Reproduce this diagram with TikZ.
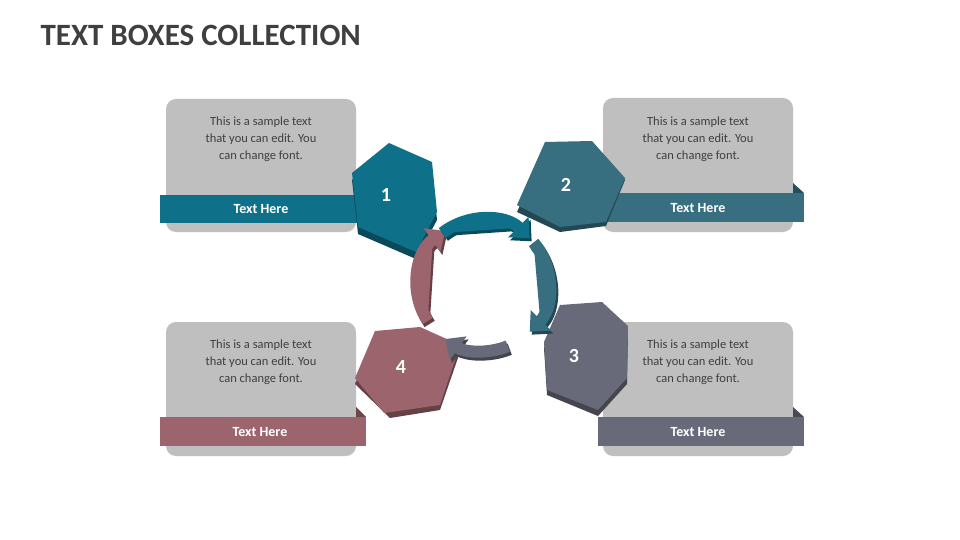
\documentclass[tikz,border=0pt]{standalone}
\usepackage{fontspec}
\setmainfont{Carlito}
\usetikzlibrary{arrows.meta}
\definecolor{cA}{HTML}{0E7189}
\definecolor{cB}{HTML}{376F80}
\definecolor{cC}{HTML}{686A7A}
\definecolor{cD}{HTML}{9C646C}
\definecolor{boxg}{HTML}{BFBFBF}
\definecolor{titlec}{HTML}{3F3F3F}
\tikzset{
  card/.style={fill=boxg,rounded corners=10pt},
  body/.style={text=titlec,align=center,font=\fontsize{12.5}{17}\selectfont},
  rib/.style={font=\bfseries\fontsize{14}{16}\selectfont,text=white},
  num/.style={font=\bfseries\fontsize{20}{22}\selectfont,text=white},
  arr/.style={line width=12pt,-{Triangle[width=28pt,length=16pt]}},
}
\begin{document}
\begin{tikzpicture}[x=1pt,y=-1pt]
\useasboundingbox (0,0) rectangle (960,540);
\node[anchor=west,text=titlec,font=\bfseries\fontsize{31}{33}\selectfont] (title) at (37,35) {TEXT BOXES COLLECTION};
% cards
\fill[card] (166,99) rectangle (356,232);
\fill[card] (603,98) rectangle (793,232);
\fill[card] (603,322) rectangle (793,456);
\fill[card] (166,322) rectangle (356,456);
\node[body] (t1) at (261,139) {This is a sample text\\that you can edit. You\\can change font.};
\node[body] (t2) at (698,139) {This is a sample text\\that you can edit. You\\can change font.};
\node[body] (t3) at (698,362) {This is a sample text\\that you can edit. You\\can change font.};
\node[body] (t4) at (261,362) {This is a sample text\\that you can edit. You\\can change font.};
% ribbons
\fill[cA!70!black] (356,195)--(366,195)--(356,185)--cycle;
\fill[cA] (160,195) rectangle (366,223);
\fill[cB!70!black] (793,193)--(804,193)--(793,183)--cycle;
\fill[cB] (603,193) rectangle (804,222);
\fill[cC!70!black] (793,417)--(804,417)--(793,407)--cycle;
\fill[cC] (598,417) rectangle (804,446);
\fill[cD!70!black] (356,417)--(366,417)--(356,407)--cycle;
\fill[cD] (160,417) rectangle (366,446);
\node[rib] (r1) at (261,209) {Text Here};
\node[rib] (r2) at (698,208) {Text Here};
\node[rib] (r3) at (698,432) {Text Here};
\node[rib] (r4) at (260,432) {Text Here};
% hexagons
\fill[cA!65!black] (352,180)--(389,150)--(432,169)--(437,220)--(416,259)--(358,234)--cycle;
\fill[cA] (352,173)--(389,143)--(432,162)--(437,212)--(416,252)--(358,227)--cycle;
\fill[cB!65!black] (517,212)--(545,149)--(592,143)--(625,180)--(606,226)--(560,232)--cycle;
\fill[cB] (517,205)--(545,142)--(592,141)--(625,178)--(606,222)--(560,227)--cycle;
\fill[cC!65!black] (544,348)--(560,310)--(602,306)--(628,332)--(627,384)--(598,416)--(547,395)--cycle;
\fill[cC] (544,342)--(560,305)--(602,302)--(628,326)--(627,378)--(598,410)--(547,390)--cycle;
\fill[cD!65!black] (355,384)--(375,336)--(420,332)--(460,352)--(440,410)--(390,418)--cycle;
\fill[cD] (355,378)--(375,331)--(420,327)--(460,345)--(440,405)--(384,413)--cycle;
\node[num] (n1) at (386,195) {1};
\node[num] (n2) at (566,185) {2};
\node[num] (n3) at (574,356) {3};
\node[num] (n4) at (401,367) {4};
% circular arrows
\coordinate (c) at (483,285);
\begin{scope}[shift={(483,285)}]
\draw[arr,draw=cD!65!black,fill=cD!65!black] (147:66)++(2,3) arc[start angle=147,end angle=235,radius=66];
\draw[arr,draw=cD,fill=cD] (147:66) arc[start angle=147,end angle=235,radius=66];
\draw[arr,draw=cA!65!black,fill=cA!65!black] (-128:66)++(2,3) arc[start angle=-128,end angle=-45,radius=66];
\draw[arr,draw=cA,fill=cA] (-128:66) arc[start angle=-128,end angle=-45,radius=66];
\draw[arr,draw=cB!65!black,fill=cB!65!black] (-40:66)++(2,3) arc[start angle=-40,end angle=45,radius=66];
\draw[arr,draw=cB,fill=cB] (-40:66) arc[start angle=-40,end angle=45,radius=66];
\draw[arr,draw=cC!65!black,fill=cC!65!black] (68:66)++(2,3) arc[start angle=68,end angle=125,radius=66];
\draw[arr,draw=cC,fill=cC] (68:66) arc[start angle=68,end angle=125,radius=66];
\end{scope}
\end{tikzpicture}
\end{document}
